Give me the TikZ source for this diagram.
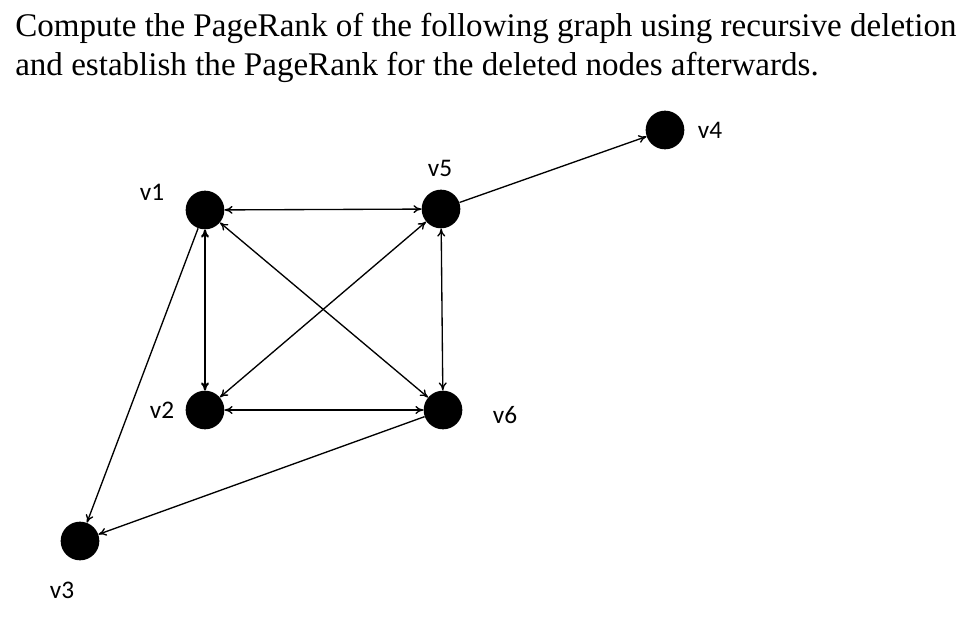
\documentclass[tikz,border=0pt]{standalone}
\usepackage{fontspec}
\usetikzlibrary{arrows.meta}
\setmainfont{Liberation Serif}
\newfontfamily\labelfont{Carlito}
\begin{document}
\begin{tikzpicture}[x=0.75pt,y=-0.75pt]
  \tikzset{vertex/.style={circle, fill=black, minimum size=29pt, inner sep=0pt},
           vlabel/.style={font=\labelfont\fontsize{19}{22}\selectfont},
           link/.style={line width=1pt, arrows={-To[length=6pt,width=6pt]}},
           dlink/.style={line width=1pt, arrows={To[length=6pt,width=6pt]-To[length=6pt,width=6pt]}}}
  \useasboundingbox (0,0) rectangle (972,625);
  \node[anchor=north west, align=left, inner sep=0pt, font=\fontsize{24.8}{29}\selectfont] (title) at (15,13)
    {Compute the PageRank of the following graph using recursive deletion\\and establish the PageRank for the deleted nodes afterwards.};

  \node[vertex] (v1) at (205,210) {};
  \node[vertex] (v5) at (441,209) {};
  \node[vertex] (v4) at (665,130) {};
  \node[vertex] (v2) at (205,410) {};
  \node[vertex] (v6) at (443,410) {};
  \node[vertex] (v3) at (80,541) {};

  \node[vlabel] (l1) at (152,192) {v1};
  \node[vlabel] (l5) at (440,168) {v5};
  \node[vlabel] (l4) at (710,130) {v4};
  \node[vlabel] (l2) at (162,410) {v2};
  \node[vlabel] (l6) at (505,415) {v6};
  \node[vlabel] (l3) at (62,590) {v3};

  \draw[dlink] (v1) -- (v5);
  \draw[dlink, line width=1.6pt] (v1) -- (v2);
  \draw[dlink] (v1) -- (v6);
  \draw[dlink] (v2) -- (v5);
  \draw[dlink] (v5) -- (v6);
  \draw[dlink] (v2) -- (v6);
  \draw[link] (v5) -- (v4);
  \draw[link] (v1) -- (v3);
  \draw[link] (v6) -- (v3);
\end{tikzpicture}
\end{document}
